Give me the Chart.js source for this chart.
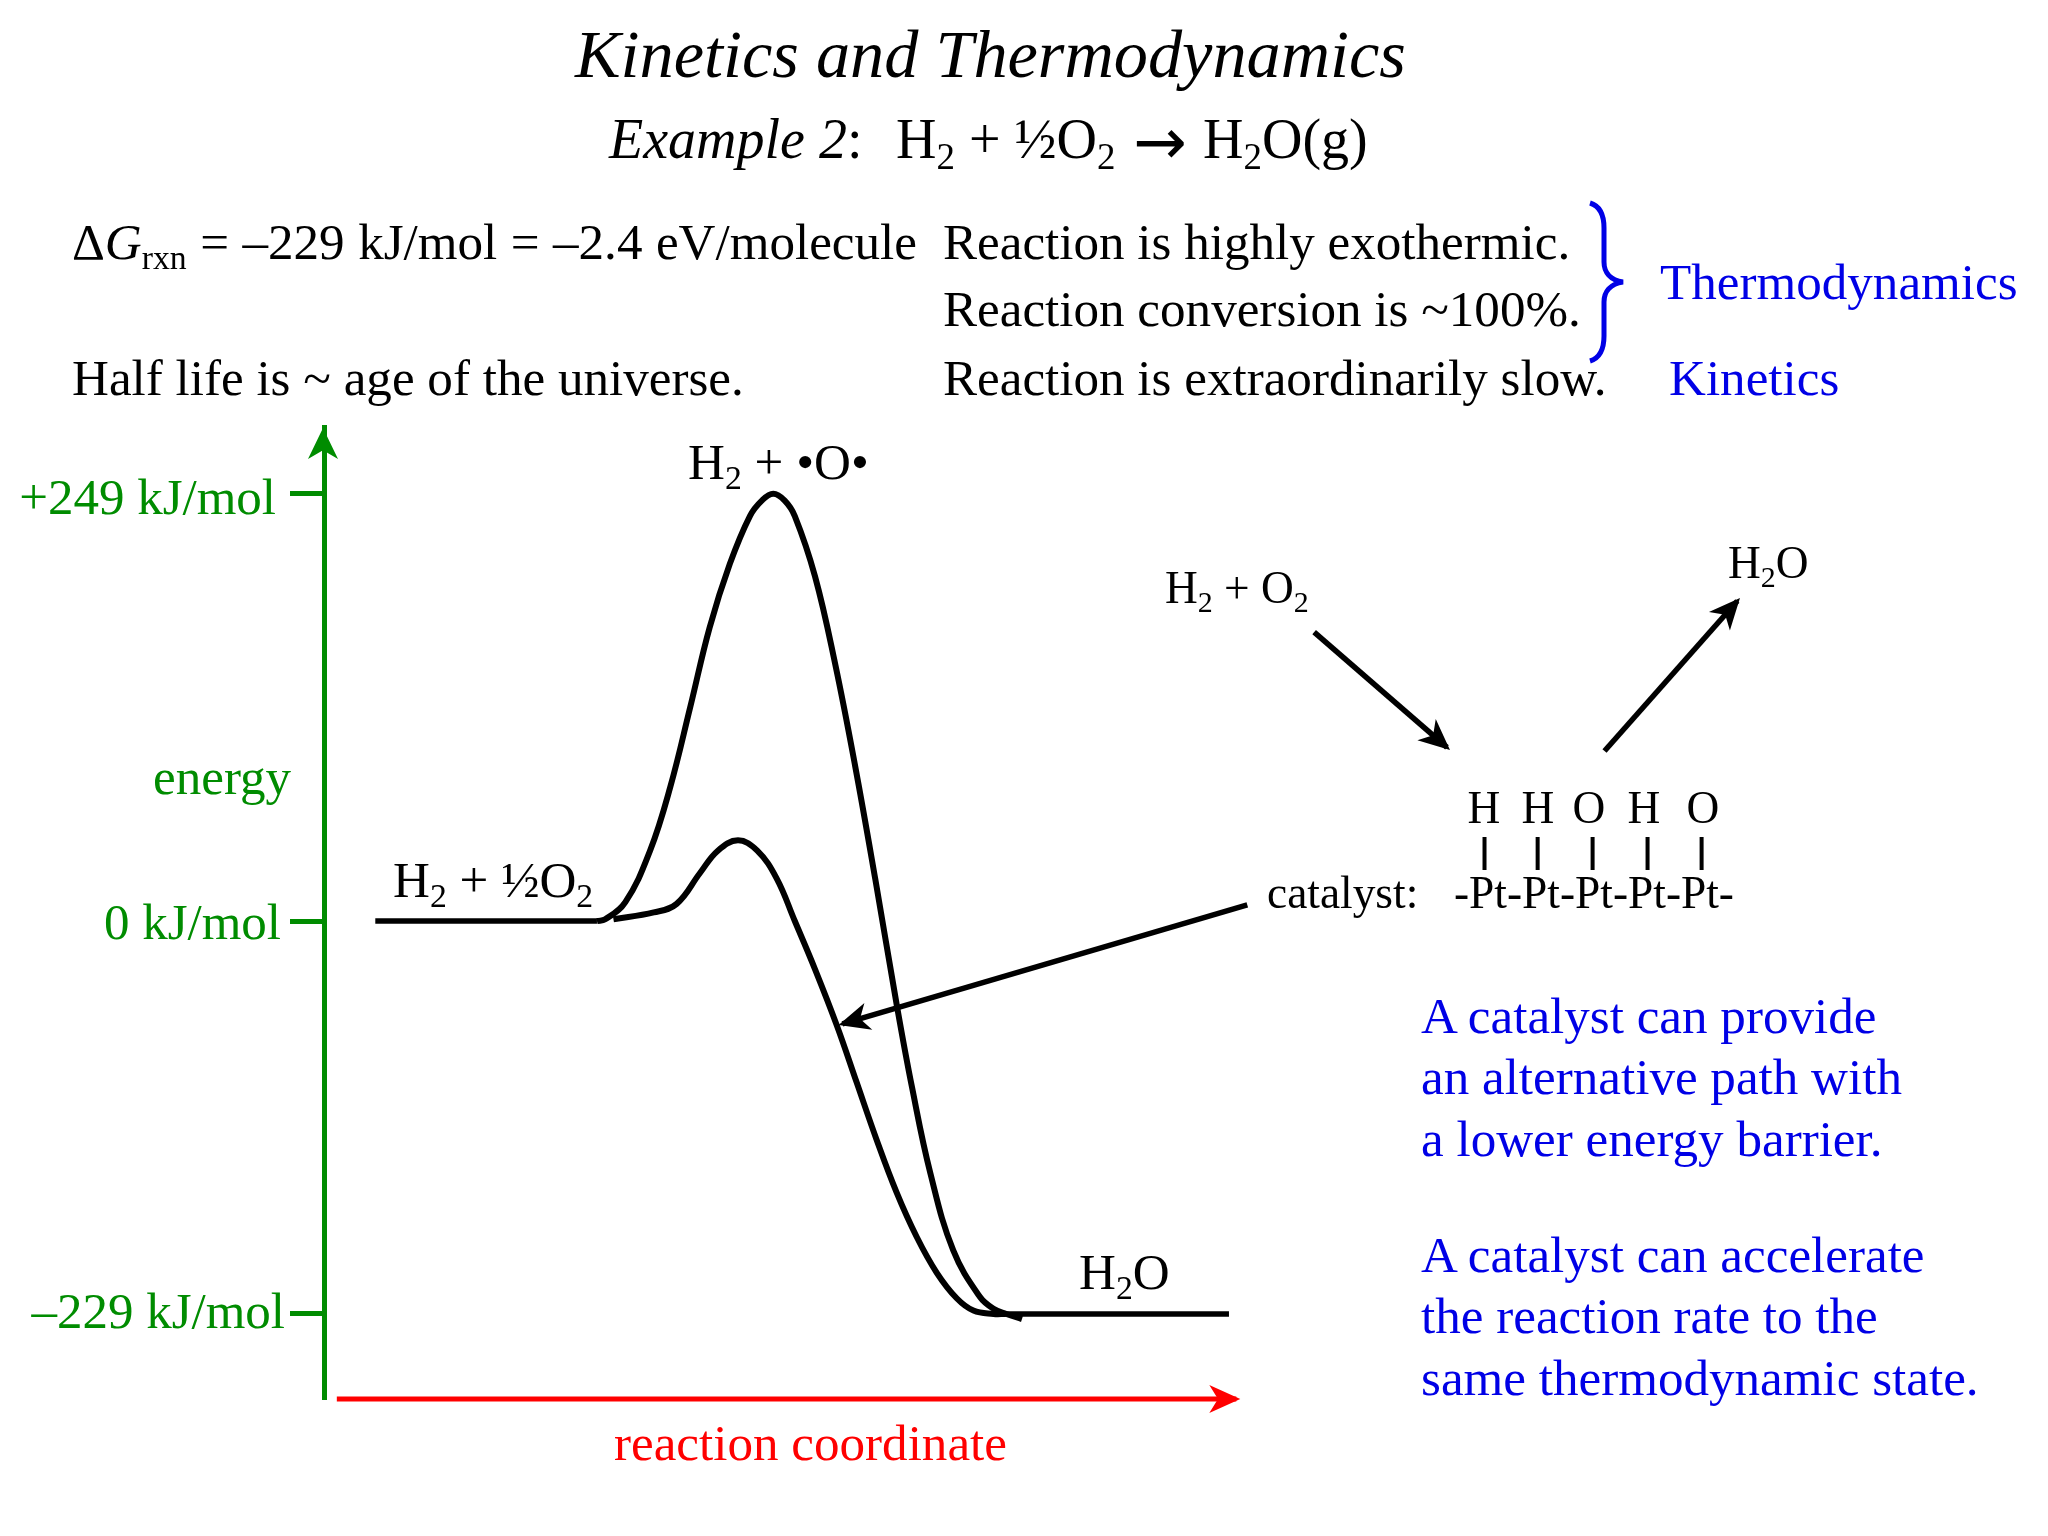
<!DOCTYPE html>
<html>
<head>
<meta charset="utf-8">
<title>Kinetics and Thermodynamics</title>
<script src="https://cdn.jsdelivr.net/npm/chart.js"></script>
<style>
  html, body { margin: 0; background: #fff; }
  #page { position: relative; width: 2048px; height: 1536px; overflow: hidden; font-family: "Liberation Serif", serif; color: #000; }
  #chart { position: absolute; left: 0; top: 0; }
  #brace { position: absolute; left: 0; top: 0; }
  /* --b is the text baseline */
  .t { position: absolute; top: calc(var(--b) - .82em); line-height: 1; font-size: 51.1px; white-space: pre; }
  .c { transform: translateX(-50%); }
  .s { font-size: 45.4px; }
  .blue { color: #0000e6; }
  .green { color: #008c00; }
  .red { color: #ff0000; }
  sub { font-size: .66em; vertical-align: -.3em; line-height: 0; }
</style>
</head>
<body>
<div id="page">
  <canvas id="chart" width="2048" height="1536"></canvas>
  <svg id="brace" width="2048" height="1536">
    <path d="M1590 203 C1600 206 1604 214 1604 228 L1604 262 C1604 272 1610 280 1623 282 C1610 284 1604 292 1604 302 L1604 336 C1604 350 1600 358 1590 361" fill="none" stroke="#0000e6" stroke-width="5"/>
  </svg>

  <div class="t" style="left:575px;--b:76px;font-size:68.3px"><i>Kinetics and Thermodynamics</i></div>
  <div class="t" style="left:609px;--b:157px;font-size:56px"><i>Example 2</i>:</div>
  <div class="t" style="left:896px;--b:157px;font-size:56px">H<sub>2</sub> + ½O<sub>2</sub></div>
  <div class="t" style="left:1133px;--b:162px;font-size:64px;font-family:'DejaVu Sans'">→</div>
  <div class="t" style="left:1203px;--b:157px;font-size:56px">H<sub>2</sub>O(g)</div>

  <div class="t" style="left:72px;--b:257.5px;word-spacing:.7px">Δ<i>G</i><sub>rxn</sub> = –229 kJ/mol = –2.4 eV/molecule</div>
  <div class="t" style="left:943px;--b:257.5px">Reaction is highly exothermic.</div>
  <div class="t" style="left:943px;--b:325px">Reaction conversion is ~100%.</div>
  <div class="t" style="left:72px;--b:393.5px">Half life is ~ age of the universe.</div>
  <div class="t" style="left:943px;--b:393.5px">Reaction is extraordinarily slow.</div>
  <div class="t blue" style="left:1660px;--b:297.5px">Thermodynamics</div>
  <div class="t blue" style="left:1669px;--b:393.5px">Kinetics</div>

  <div class="t" style="left:688px;--b:478px">H<sub>2</sub> + •O•</div>
  <div class="t" style="left:393px;--b:896px">H<sub>2</sub> + ½O<sub>2</sub></div>
  <div class="t" style="left:1079px;--b:1288px">H<sub>2</sub>O</div>
  <div class="t green" style="left:153px;--b:793px">energy</div>
  <div class="t red" style="left:614px;--b:1459px">reaction coordinate</div>

  <div class="t s" style="left:1165px;--b:603px">H<sub>2</sub> + O<sub>2</sub></div>
  <div class="t s" style="left:1728px;--b:578px">H<sub>2</sub>O</div>
  <div class="t s c" style="left:1484px;--b:823px">H</div>
  <div class="t s c" style="left:1538px;--b:823px">H</div>
  <div class="t s c" style="left:1589px;--b:823px">O</div>
  <div class="t s c" style="left:1644px;--b:823px">H</div>
  <div class="t s c" style="left:1703px;--b:823px">O</div>
  <div class="t s" style="left:1267px;--b:908px">catalyst:</div>
  <div class="t s" style="left:1454px;--b:908px">-Pt-Pt-Pt-Pt-Pt-</div>

  <div class="t blue" style="left:1421px;--b:1032px">A catalyst can provide</div>
  <div class="t blue" style="left:1421px;--b:1093px">an alternative path with</div>
  <div class="t blue" style="left:1421px;--b:1155px">a lower energy barrier.</div>
  <div class="t blue" style="left:1421px;--b:1271px">A catalyst can accelerate</div>
  <div class="t blue" style="left:1421px;--b:1332px">the reaction rate to the</div>
  <div class="t blue" style="left:1421px;--b:1394px">same thermodynamic state.</div>
</div>

<script>
// energy axis, kJ/mol
const tickValues = [249, 0, -229];
const tickLabels = ['+249 kJ/mol', '0 kJ/mol', '–229 kJ/mol'];
// the labels in the picture are not lined up, nudge per tick [x, y]
const labelNudges = [[-5, 7], [0, 5], [4, 1]];

// flat levels
const reactantX = [5.6, 29.8];
const reactantE = [0, 0];
const productX = [74.2, 98.8];
const productE = [-229, -229];

// path without catalyst
const directX = [29.8, 30.7, 32.9, 35.6, 37.8, 40.0, 42.1, 44.3, 46.5, 47.8, 49.05, 50.3, 51.4, 53.6, 55.8, 58.0, 60.2, 62.5, 64.2, 66.2, 68.7, 71.6, 73.1, 74.5, 76.2];
const directE = [0, 1, 11, 41, 78, 125, 171, 208, 236, 245, 249, 245, 236, 201, 150, 90, 24, -48, -97, -147, -192, -219, -226, -229, -232];

// path with catalyst
const catalyzedX = [31.6, 36.0, 38.5, 41.05, 43.0, 45.2, 47.3, 49.4, 51.4, 53.6, 56.0, 58.15, 60.3, 62.5, 64.7, 66.9, 69.1, 70.9, 73.1, 74.4];
const catalyzedE = [1, 5, 10, 28, 41, 47, 41, 25, 0, -28, -61, -94, -127, -158, -184, -205, -220, -227, -229, -229];

// reaction coordinate arrow along the bottom
const axisArrowX = [1.4, 99.6];
const axisArrowE = [-278.6, -278.6];

// annotation arrows, tail then tip
const catalystArrowX = [100.8, 56.6];
const catalystArrowE = [9.4, -60];
const adsorbArrowX = [108.1, 122.6];
const adsorbArrowE = [168.4, 101.2];
const desorbArrowX = [139.8, 154.3];
const desorbArrowE = [99.1, 186.5];

// bonds between the adsorbed atoms and the Pt chain
const bondX = [126.7, 132.5, 138.5, 144.5, 150.4];
const bondE = [49, 29.7];

const GREEN = '#008c00';
const RED = '#ff0000';
const BLACK = '#000000';

function toPoints(xs, es) {
    return xs.map((x, i) => ({ x: x, y: es[i] }));
}

function lineSet(label, xs, es, color, width, extra) {
    return Object.assign({
        label: label,
        data: toPoints(xs, es),
        borderColor: color,
        borderWidth: width,
        pointRadius: 0,
        fill: false,
        clip: false
    }, extra);
}

function stealthHead(ctx, tipX, tipY, angle, len, halfWidth, color) {
    ctx.save();
    ctx.translate(tipX, tipY);
    ctx.rotate(angle);
    ctx.fillStyle = color;
    ctx.beginPath();
    ctx.moveTo(0, 0);
    ctx.lineTo(-len, -halfWidth);
    ctx.lineTo(-len * 0.72, 0);
    ctx.lineTo(-len, halfWidth);
    ctx.closePath();
    ctx.fill();
    ctx.restore();
}

// arrowheads on the datasets flagged arrow, and on top of the energy axis
const arrowHeads = {
    id: 'arrowHeads',
    afterDatasetsDraw(chart) {
        const ctx = chart.ctx;
        chart.data.datasets.forEach((ds, i) => {
            if (!ds.arrow) return;
            const pts = chart.getDatasetMeta(i).data;
            const a = pts[pts.length - 2];
            const b = pts[pts.length - 1];
            const angle = Math.atan2(b.y - a.y, b.x - a.x);
            stealthHead(ctx, b.x + 4 * Math.cos(angle), b.y + 4 * Math.sin(angle), angle, 31, 14, ds.borderColor);
        });
        const y = chart.scales.y;
        stealthHead(ctx, y.right - 1, y.top + 1, -Math.PI / 2, 31, 15, GREEN);
    }
};

const nudgeTickLabels = {
    id: 'nudgeTickLabels',
    beforeDraw(chart) {
        if (chart.$nudged) return;
        chart.$nudged = true;
        chart.scales.y.getLabelItems().forEach((item, i) => {
            item.options.translation[0] += labelNudges[i][0];
            item.options.translation[1] += labelNudges[i][1];
        });
    }
};

new Chart(document.getElementById('chart').getContext('2d'), {
    type: 'line',
    data: {
        datasets: [
            lineSet('reactants', reactantX, reactantE, BLACK, 5.5),
            lineSet('products', productX, productE, BLACK, 5.5),
            lineSet('no catalyst', directX, directE, BLACK, 6, { tension: 0.4 }),
            lineSet('with catalyst', catalyzedX, catalyzedE, BLACK, 6, { tension: 0.4 }),
            lineSet('reaction coordinate', axisArrowX, axisArrowE, RED, 5, { arrow: true }),
            lineSet('catalyst arrow', catalystArrowX, catalystArrowE, BLACK, 5.5, { arrow: true }),
            lineSet('adsorb arrow', adsorbArrowX, adsorbArrowE, BLACK, 5.5, { arrow: true }),
            lineSet('desorb arrow', desorbArrowX, desorbArrowE, BLACK, 5.5, { arrow: true })
        ].concat(bondX.map(x => lineSet('bond', [x, x], bondE, BLACK, 4)))
    },
    options: {
        responsive: false,
        animation: false,
        devicePixelRatio: 1,
        layout: { padding: { left: 0, right: 2, top: 427, bottom: 139 } },
        plugins: { legend: { display: false }, tooltip: { enabled: false } },
        scales: {
            x: { type: 'linear', display: false, min: 0, max: 188 },
            y: {
                type: 'linear',
                min: -277.4,
                max: 287.9,
                afterFit: scale => { scale.width = 324; },
                afterBuildTicks: scale => { scale.ticks = tickValues.map(v => ({ value: v })); },
                border: { display: true, color: GREEN, width: 5 },
                grid: { drawOnChartArea: false, color: GREEN, lineWidth: 5, tickLength: 34 },
                ticks: {
                    color: GREEN,
                    padding: 9,
                    autoSkip: false,
                    maxRotation: 0,
                    font: { family: '"Liberation Serif", serif', size: 51 },
                    callback: value => tickLabels[tickValues.indexOf(value)]
                }
            }
        }
    },
    plugins: [arrowHeads, nudgeTickLabels]
});
</script>
</body>
</html>
